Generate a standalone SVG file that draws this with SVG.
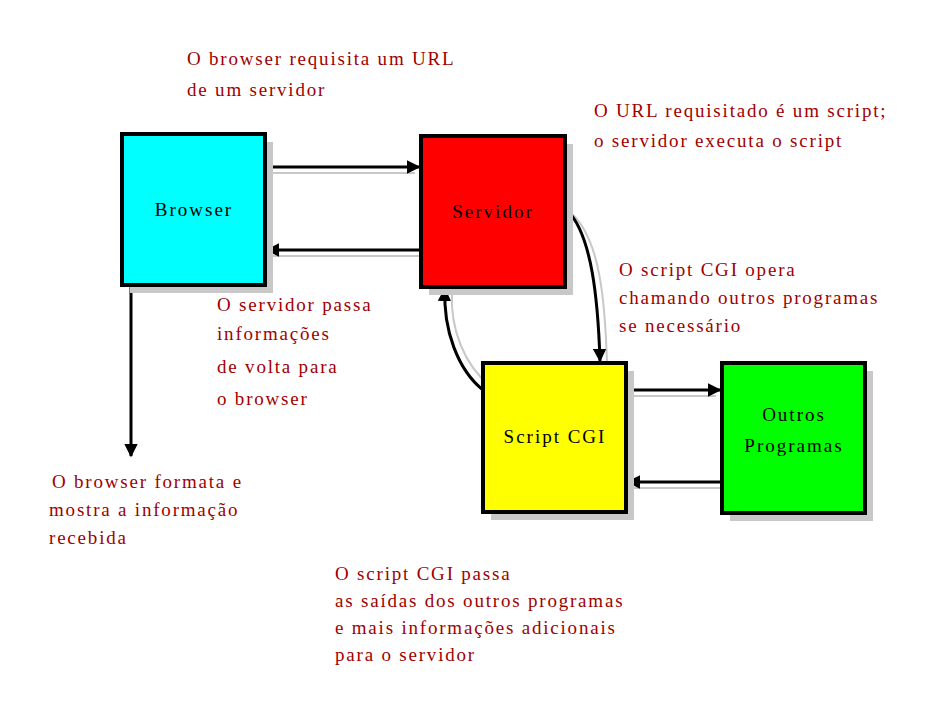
<svg xmlns="http://www.w3.org/2000/svg" width="950" height="705" viewBox="0 0 950 705">
<style>
.box{stroke:#000;stroke-width:4}
.sh{fill:#c8c8c8}
.lbl{font-family:"Liberation Serif",serif;font-size:19px;letter-spacing:2px;fill:#000;text-anchor:middle}
.note{font-family:"Liberation Serif",serif;font-size:19px;letter-spacing:1.8px;fill:#a00000}
.c{stroke:#000;stroke-width:3;fill:none;marker-end:url(#ah)}
.cs{stroke:#c8c8c8;stroke-width:2;fill:none}
</style>
<defs>
<marker id="ah" viewBox="0 0 10 10" refX="9" refY="5" markerWidth="4.5" markerHeight="4.5" orient="auto" markerUnits="strokeWidth"><path d="M0,0L10,5L0,10z" fill="#000"/></marker>
</defs>
<rect width="950" height="705" fill="#fff"/>
<g id="connectors">
<path class="cs" d="M267,173H415"/><path class="cs" d="M272,256H421"/>
<path class="cs" d="M572,214C600,240 605,300 607,363"/><path class="cs" d="M489,385C465,365 450,330 452,292"/>
<path class="cs" d="M628,396H716"/><path class="cs" d="M630,488H722"/>
<path class="c" d="M265,167H419"/>
<path class="c" d="M421,250H267"/>
<path class="c" d="M131,287V456"/>
<path class="c" d="M567,210C592,235 598,300 600,361"/>
<path class="c" d="M483,390C458,370 443,330 445,289"/>
<path class="c" d="M626,390H720"/>
<path class="c" d="M722,482H628"/>
</g>
<g id="browser"><rect class="sh" x="130" y="142" width="143" height="151"/><rect class="box" x="122" y="134" width="143" height="151" fill="#00ffff"/><text class="lbl" x="194" y="216">Browser</text></g>
<g id="servidor"><rect class="sh" x="429" y="144" width="144" height="151"/><rect class="box" x="421" y="136" width="144" height="151" fill="#ff0000"/><text class="lbl" x="493" y="218">Servidor</text></g>
<g id="script"><rect class="sh" x="491" y="371" width="143" height="149"/><rect class="box" x="483" y="363" width="143" height="149" fill="#ffff00"/><text class="lbl" x="555" y="443">Script CGI</text></g>
<g id="outros"><rect class="sh" x="730" y="371" width="143" height="150"/><rect class="box" x="722" y="363" width="143" height="150" fill="#00ff00"/><text class="lbl" x="794" y="421">Outros</text><text class="lbl" x="794" y="452">Programas</text></g>
<g id="notes">
<text class="note" x="187" y="65">O browser  requisita um URL</text>
<text class="note" x="187" y="96">de um servidor</text>
<text class="note" x="594" y="117">O URL requisitado é um script;</text>
<text class="note" x="594" y="147">o servidor executa o script</text>
<text class="note" x="619" y="276">O script CGI opera</text>
<text class="note" x="619" y="304">chamando outros programas</text>
<text class="note" x="619" y="332">se necessário</text>
<text class="note" x="217" y="311">O servidor passa</text>
<text class="note" x="217" y="340">informações</text>
<text class="note" x="217" y="373">de volta  para</text>
<text class="note" x="217" y="405">o browser</text>
<text class="note" x="52" y="488">O browser formata e</text>
<text class="note" x="49" y="516">mostra a informação</text>
<text class="note" x="49" y="544">recebida</text>
<text class="note" x="335" y="580">O script CGI passa</text>
<text class="note" x="335" y="607">as saídas dos outros programas</text>
<text class="note" x="335" y="634">e mais informações adicionais</text>
<text class="note" x="335" y="661">para o servidor</text>
</g>
</svg>
